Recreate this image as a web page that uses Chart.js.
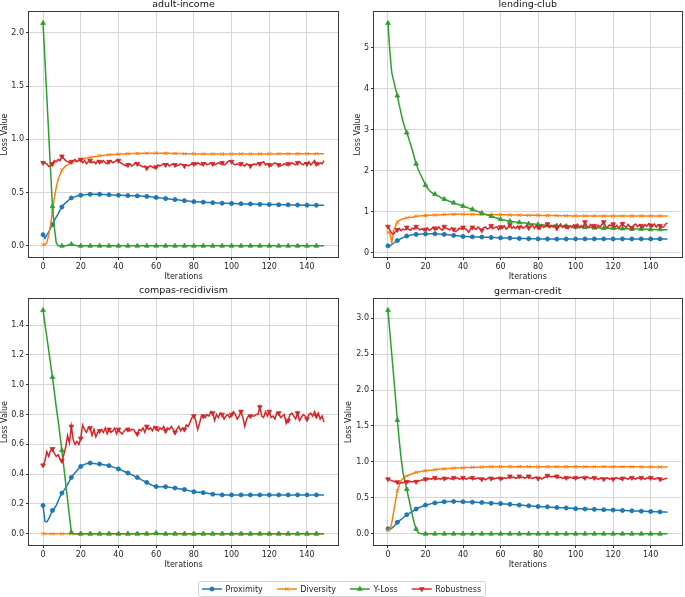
<!DOCTYPE html>
<html><head><meta charset="utf-8">
<script src="https://cdn.jsdelivr.net/npm/chart.js@4.4.1/dist/chart.umd.min.js"></script>
<style>
html,body{margin:0;padding:0;background:#fff;}
#wrap{position:relative;width:685px;height:597px;overflow:hidden;background:#fff;}
.cell{position:absolute;}
canvas{display:block;}
</style></head><body>
<div id="wrap">
<div class="cell" style="left:0;top:0"><canvas id="c0" width="342" height="285"></canvas></div>
<div class="cell" style="left:342px;top:0"><canvas id="c1" width="343" height="285"></canvas></div>
<div class="cell" style="left:0;top:285px"><canvas id="c2" width="342" height="285"></canvas></div>
<div class="cell" style="left:342px;top:285px"><canvas id="c3" width="343" height="285"></canvas></div>
<div class="cell" style="left:0;top:570px"><canvas id="cl" width="685" height="27"></canvas></div>
</div>
<script>
// ---------------- DATA ----------------
const ITERATIONS = Array.from({length:150}, (_, i) => i);
const SERIES_NAMES = ['Proximity','Diversity','Y-Loss','Robustness'];
const DATASET_TITLES = ['adult-income','lending-club','compas-recidivism','german-credit'];
const X_TICKS = [0,20,40,60,80,100,120,140];
const X_TICK_LABELS = ['0','20','40','60','80','100','120','140'];

const adultYTicks = [0,0.5,1.0,1.5,2.0];
const adultYTickLabels = ['0.0','0.5','1.0','1.5','2.0'];
const lendingYTicks = [0,1,2,3,4,5];
const lendingYTickLabels = ['0','1','2','3','4','5'];
const compasYTicks = [0,0.2,0.4,0.6,0.8,1.0,1.2,1.4];
const compasYTickLabels = ['0.0','0.2','0.4','0.6','0.8','1.0','1.2','1.4'];
const germanYTicks = [0,0.5,1.0,1.5,2.0,2.5,3.0];
const germanYTickLabels = ['0.0','0.5','1.0','1.5','2.0','2.5','3.0'];

// adult-income
const adultProximity = [
0.105,0.07,0.10,0.13,0.165,0.20,0.24,0.27,0.30,0.335,
0.365,0.385,0.405,0.42,0.435,0.45,0.455,0.462,0.468,0.472,
0.475,0.478,0.48,0.482,0.483,0.484,0.485,0.485,0.485,0.484,
0.484,0.483,0.482,0.481,0.48,0.479,0.478,0.477,0.476,0.476,
0.475,0.475,0.474,0.473,0.473,0.472,0.471,0.471,0.47,0.47,
0.469,0.468,0.467,0.466,0.465,0.464,0.462,0.46,0.458,0.456,
0.454,0.452,0.45,0.448,0.446,0.444,0.442,0.44,0.438,0.436,
0.434,0.432,0.43,0.428,0.426,0.424,0.422,0.42,0.418,0.416,
0.415,0.414,0.413,0.412,0.411,0.41,0.409,0.408,0.407,0.406,
0.405,0.404,0.403,0.402,0.401,0.40,0.40,0.399,0.399,0.398,
0.398,0.397,0.397,0.396,0.396,0.395,0.395,0.394,0.394,0.393,
0.393,0.392,0.392,0.391,0.391,0.39,0.39,0.39,0.389,0.389,
0.388,0.388,0.388,0.387,0.387,0.386,0.386,0.386,0.385,0.385,
0.385,0.384,0.384,0.384,0.383,0.383,0.383,0.383,0.382,0.382,
0.382,0.382,0.381,0.381,0.381,0.381,0.38,0.38,0.38,0.38];
const adultDiversity = [
0.01,0.01,0.03,0.10,0.20,0.33,0.45,0.55,0.62,0.67,
0.71,0.73,0.75,0.76,0.77,0.78,0.79,0.795,0.80,0.805,
0.81,0.815,0.82,0.825,0.828,0.83,0.833,0.836,0.839,0.842,
0.845,0.847,0.849,0.851,0.853,0.855,0.856,0.857,0.858,0.859,
0.86,0.861,0.862,0.863,0.864,0.865,0.865,0.866,0.866,0.867,
0.867,0.867,0.868,0.868,0.868,0.869,0.869,0.869,0.87,0.87,
0.87,0.87,0.869,0.869,0.869,0.868,0.868,0.868,0.867,0.867,
0.867,0.866,0.866,0.866,0.865,0.865,0.865,0.864,0.864,0.864,
0.863,0.863,0.863,0.863,0.862,0.862,0.862,0.862,0.862,0.862,
0.862,0.862,0.862,0.862,0.862,0.862,0.862,0.862,0.862,0.862,
0.862,0.862,0.863,0.863,0.863,0.863,0.863,0.863,0.863,0.863,
0.863,0.863,0.863,0.863,0.863,0.863,0.863,0.863,0.863,0.863,
0.863,0.863,0.863,0.863,0.863,0.864,0.864,0.864,0.864,0.864,
0.864,0.864,0.864,0.864,0.864,0.864,0.864,0.864,0.864,0.864,
0.864,0.864,0.864,0.864,0.864,0.864,0.864,0.864,0.864,0.864];
const adultYLoss = [
2.09,1.75,1.40,1.05,0.70,0.37,0.17,0.03,0.00,0.00,
0.00,0.00,0.00,0.005,0.01,0.015,0.01,0.005,0.00,0.00,
0,0,0,0,0,0,0,0,0,0,
0,0,0,0,0,0,0,0,0,0,
0,0,0,0,0,0,0,0,0,0,
0,0,0,0,0,0,0,0,0,0,
0,0,0,0,0,0,0,0,0,0,
0,0,0,0,0,0,0,0,0,0,
0,0,0,0,0,0,0,0,0,0,
0,0,0,0,0,0,0,0,0,0,
0,0,0,0,0,0,0,0,0,0,
0,0,0,0,0,0,0,0,0,0,
0,0,0,0,0,0,0,0,0,0,
0,0,0,0,0,0,0,0,0,0,
0,0,0,0,0,0,0,0,0,0];
const adultRobustness = [
0.78,0.775,0.77,0.745,0.75,0.77,0.80,0.79,0.81,0.80,
0.84,0.82,0.80,0.79,0.78,0.79,0.80,0.81,0.79,0.80,
0.81,0.78,0.80,0.77,0.79,0.80,0.78,0.79,0.77,0.80,
0.79,0.78,0.80,0.78,0.77,0.79,0.80,0.78,0.79,0.80,
0.80,0.78,0.77,0.76,0.75,0.76,0.77,0.75,0.76,0.78,
0.77,0.76,0.75,0.74,0.75,0.73,0.74,0.75,0.74,0.73,
0.74,0.76,0.75,0.76,0.77,0.76,0.77,0.75,0.76,0.77,
0.76,0.75,0.76,0.77,0.76,0.75,0.76,0.75,0.76,0.77,
0.77,0.76,0.78,0.77,0.76,0.77,0.78,0.76,0.77,0.78,
0.77,0.76,0.77,0.78,0.77,0.78,0.76,0.77,0.79,0.80,
0.79,0.77,0.76,0.77,0.76,0.77,0.76,0.75,0.77,0.76,
0.75,0.76,0.77,0.76,0.78,0.77,0.78,0.79,0.76,0.77,
0.76,0.75,0.77,0.78,0.77,0.76,0.75,0.76,0.77,0.76,
0.77,0.76,0.78,0.77,0.76,0.78,0.79,0.77,0.76,0.78,
0.77,0.79,0.76,0.78,0.80,0.77,0.76,0.78,0.77,0.80];

// lending-club
const lendingProximity = [
0.17,0.17,0.20,0.24,0.27,0.30,0.32,0.35,0.37,0.39,
0.41,0.42,0.43,0.44,0.445,0.45,0.455,0.455,0.46,0.46,
0.46,0.46,0.465,0.465,0.465,0.465,0.46,0.46,0.455,0.455,
0.45,0.445,0.44,0.435,0.43,0.425,0.42,0.415,0.41,0.405,
0.40,0.398,0.396,0.394,0.392,0.39,0.389,0.388,0.387,0.386,
0.385,0.383,0.381,0.379,0.377,0.375,0.373,0.371,0.369,0.367,
0.365,0.364,0.363,0.362,0.361,0.36,0.358,0.356,0.354,0.352,
0.35,0.349,0.348,0.347,0.346,0.345,0.344,0.343,0.342,0.341,
0.34,0.34,0.339,0.339,0.338,0.338,0.337,0.337,0.336,0.336,
0.335,0.335,0.335,0.336,0.336,0.337,0.337,0.338,0.338,0.339,
0.339,0.34,0.34,0.34,0.34,0.34,0.34,0.34,0.34,0.34,
0.34,0.34,0.34,0.34,0.34,0.34,0.34,0.34,0.34,0.34,
0.34,0.34,0.34,0.34,0.34,0.34,0.34,0.34,0.34,0.34,
0.34,0.34,0.34,0.34,0.34,0.34,0.34,0.34,0.34,0.34,
0.34,0.34,0.34,0.34,0.34,0.34,0.34,0.34,0.34,0.34];
const lendingDiversity = [
0.50,0.48,0.25,0.55,0.65,0.75,0.79,0.81,0.83,0.84,
0.85,0.86,0.865,0.87,0.88,0.89,0.895,0.90,0.905,0.905,
0.91,0.91,0.915,0.915,0.92,0.92,0.925,0.925,0.93,0.93,
0.935,0.935,0.935,0.94,0.94,0.94,0.94,0.94,0.94,0.94,
0.94,0.94,0.94,0.94,0.94,0.94,0.938,0.937,0.936,0.935,
0.935,0.934,0.933,0.932,0.931,0.93,0.93,0.93,0.93,0.93,
0.93,0.928,0.927,0.926,0.925,0.924,0.923,0.922,0.921,0.92,
0.92,0.92,0.919,0.918,0.917,0.916,0.916,0.915,0.915,0.915,
0.915,0.914,0.913,0.912,0.911,0.91,0.91,0.91,0.909,0.908,
0.908,0.907,0.906,0.905,0.904,0.903,0.902,0.902,0.901,0.901,
0.90,0.90,0.90,0.90,0.90,0.90,0.90,0.90,0.90,0.90,
0.90,0.90,0.90,0.90,0.90,0.90,0.90,0.90,0.90,0.90,
0.90,0.90,0.90,0.90,0.90,0.90,0.90,0.90,0.90,0.90,
0.90,0.90,0.90,0.90,0.90,0.90,0.90,0.90,0.90,0.90,
0.90,0.90,0.90,0.90,0.90,0.90,0.90,0.90,0.90,0.90];
const lendingYLoss = [
5.60,4.90,4.40,4.20,4.00,3.83,3.60,3.40,3.20,3.05,
2.93,2.80,2.65,2.50,2.33,2.17,2.05,1.94,1.85,1.75,
1.65,1.58,1.52,1.48,1.45,1.43,1.40,1.38,1.35,1.33,
1.31,1.29,1.27,1.25,1.24,1.22,1.20,1.19,1.17,1.16,
1.14,1.12,1.11,1.09,1.08,1.06,1.04,1.02,1.01,0.99,
0.97,0.95,0.94,0.92,0.91,0.89,0.88,0.86,0.85,0.83,
0.82,0.81,0.80,0.79,0.78,0.77,0.765,0.76,0.75,0.745,
0.74,0.735,0.73,0.725,0.72,0.71,0.705,0.70,0.70,0.695,
0.69,0.685,0.68,0.68,0.675,0.67,0.67,0.665,0.665,0.66,
0.66,0.655,0.655,0.65,0.65,0.65,0.645,0.64,0.64,0.635,
0.63,0.63,0.625,0.625,0.62,0.62,0.62,0.615,0.615,0.61,
0.61,0.61,0.605,0.605,0.60,0.60,0.60,0.60,0.60,0.60,
0.60,0.595,0.595,0.59,0.59,0.59,0.59,0.585,0.585,0.58,
0.58,0.58,0.58,0.58,0.58,0.58,0.575,0.575,0.575,0.57,
0.57,0.57,0.57,0.57,0.57,0.57,0.565,0.565,0.56,0.56];
const lendingRobustness = [
0.64,0.55,0.48,0.46,0.52,0.56,0.60,0.54,0.58,0.56,
0.62,0.57,0.55,0.60,0.58,0.64,0.60,0.56,0.59,0.55,
0.57,0.61,0.55,0.58,0.62,0.60,0.57,0.63,0.58,0.55,
0.64,0.60,0.58,0.56,0.61,0.57,0.52,0.55,0.60,0.58,
0.62,0.59,0.56,0.50,0.58,0.62,0.60,0.57,0.63,0.59,
0.55,0.61,0.63,0.58,0.60,0.66,0.59,0.62,0.64,0.57,
0.63,0.60,0.66,0.58,0.62,0.68,0.60,0.64,0.59,0.65,
0.62,0.66,0.60,0.63,0.67,0.61,0.64,0.69,0.60,0.66,
0.63,0.58,0.68,0.62,0.65,0.70,0.61,0.66,0.63,0.68,
0.60,0.65,0.70,0.62,0.67,0.64,0.59,0.66,0.62,0.68,
0.64,0.70,0.61,0.66,0.63,0.75,0.65,0.62,0.69,0.64,
0.66,0.60,0.67,0.63,0.69,0.75,0.64,0.62,0.68,0.66,
0.70,0.63,0.67,0.60,0.66,0.71,0.65,0.62,0.69,0.64,
0.61,0.67,0.70,0.64,0.68,0.66,0.62,0.69,0.65,0.71,
0.67,0.64,0.70,0.63,0.68,0.66,0.62,0.64,0.70,0.73];

// compas-recidivism
const compasProximity = [
0.19,0.083,0.08,0.10,0.13,0.157,0.17,0.19,0.22,0.25,
0.273,0.29,0.31,0.33,0.355,0.378,0.395,0.41,0.425,0.44,
0.452,0.46,0.466,0.47,0.473,0.475,0.474,0.472,0.47,0.469,
0.468,0.466,0.464,0.462,0.46,0.457,0.453,0.449,0.444,0.44,
0.435,0.43,0.424,0.418,0.413,0.408,0.402,0.396,0.39,0.384,
0.378,0.371,0.364,0.357,0.351,0.345,0.338,0.331,0.325,0.319,
0.317,0.316,0.316,0.316,0.316,0.316,0.314,0.312,0.31,0.308,
0.307,0.305,0.303,0.301,0.299,0.297,0.294,0.291,0.288,0.285,
0.282,0.281,0.279,0.278,0.277,0.276,0.274,0.272,0.27,0.268,
0.266,0.265,0.264,0.263,0.262,0.261,0.261,0.261,0.261,0.261,
0.261,0.261,0.261,0.261,0.261,0.261,0.261,0.261,0.261,0.261,
0.261,0.261,0.261,0.261,0.261,0.261,0.261,0.261,0.261,0.261,
0.261,0.261,0.261,0.261,0.261,0.261,0.261,0.261,0.261,0.261,
0.261,0.261,0.261,0.261,0.261,0.261,0.261,0.261,0.261,0.261,
0.261,0.261,0.261,0.261,0.261,0.261,0.261,0.261,0.261,0.261];
const compasDiversity = [
0,0,0,0,0,0,0,0,0,0,
0,0,0,0,0,0,0,0,0,0,
0,0,0,0,0,0,0,0,0,0,
0,0,0,0,0,0,0,0,0,0,
0,0,0,0,0,0,0,0,0,0,
0,0,0,0,0,0,0,0,0,0,
0,0,0,0,0,0,0,0,0,0,
0,0,0,0,0,0,0,0,0,0,
0,0,0,0,0,0,0,0,0,0,
0,0,0,0,0,0,0,0,0,0,
0,0,0,0,0,0,0,0,0,0,
0,0,0,0,0,0,0,0,0,0,
0,0,0,0,0,0,0,0,0,0,
0,0,0,0,0,0,0,0,0,0,
0,0,0,0,0,0,0,0,0,0];
const compasYLoss = [
1.50,1.41,1.32,1.23,1.14,1.05,0.95,0.85,0.76,0.66,
0.56,0.45,0.34,0.23,0.12,0.01,0,0,0,0,
0,0,0,0,0,0,0,0,0,0,
0,0,0,0,0,0,0,0,0,0,
0,0,0,0,0,0,0,0,0,0,
0,0,0,0,0,0,0,0,0,0.003,
0.005,0.003,0,0,0,0,0,0,0,0,
0,0,0,0,0,0,0,0,0,0,
0,0,0,0,0,0,0,0,0,0,
0,0,0,0,0,0,0,0,0,0,
0,0,0,0,0,0,0,0,0,0,
0,0,0,0,0,0,0,0,0,0,
0,0,0,0,0,0,0,0,0,0,
0,0,0,0,0,0,0,0,0,0,
0,0,0,0,0,0,0,0,0,0];
const compasRobustness = [
0.46,0.49,0.55,0.52,0.56,0.57,0.54,0.52,0.53,0.50,
0.49,0.53,0.58,0.66,0.61,0.72,0.63,0.60,0.62,0.60,
0.64,0.73,0.70,0.68,0.71,0.71,0.66,0.70,0.65,0.68,
0.69,0.70,0.68,0.71,0.67,0.70,0.68,0.69,0.71,0.67,
0.70,0.68,0.67,0.69,0.70,0.70,0.69,0.70,0.70,0.68,
0.67,0.70,0.69,0.71,0.68,0.72,0.70,0.71,0.69,0.72,
0.71,0.69,0.71,0.70,0.72,0.69,0.71,0.70,0.72,0.70,
0.68,0.70,0.72,0.69,0.71,0.70,0.73,0.72,0.75,0.78,
0.79,0.76,0.70,0.74,0.79,0.79,0.78,0.80,0.79,0.82,
0.81,0.76,0.80,0.78,0.81,0.80,0.77,0.79,0.80,0.78,
0.80,0.82,0.80,0.77,0.79,0.82,0.78,0.72,0.77,0.79,
0.79,0.79,0.79,0.80,0.80,0.85,0.79,0.78,0.82,0.79,
0.82,0.78,0.79,0.77,0.81,0.81,0.78,0.79,0.80,0.74,
0.76,0.80,0.81,0.79,0.77,0.81,0.76,0.78,0.80,0.79,
0.77,0.80,0.81,0.79,0.82,0.79,0.81,0.77,0.79,0.75];

// german-credit
const germanProximity = [
0.07,0.06,0.08,0.10,0.13,0.16,0.18,0.20,0.22,0.245,
0.265,0.28,0.295,0.31,0.33,0.345,0.36,0.37,0.38,0.39,
0.40,0.405,0.41,0.42,0.425,0.43,0.433,0.436,0.439,0.442,
0.445,0.447,0.448,0.449,0.45,0.45,0.45,0.449,0.448,0.447,
0.446,0.445,0.444,0.443,0.441,0.44,0.439,0.438,0.437,0.436,
0.435,0.433,0.431,0.429,0.427,0.425,0.424,0.423,0.422,0.421,
0.42,0.418,0.416,0.414,0.412,0.41,0.408,0.406,0.404,0.402,
0.40,0.398,0.396,0.394,0.392,0.39,0.388,0.386,0.384,0.382,
0.38,0.379,0.378,0.377,0.376,0.375,0.373,0.371,0.369,0.367,
0.365,0.364,0.363,0.362,0.361,0.36,0.358,0.356,0.354,0.352,
0.35,0.349,0.348,0.347,0.346,0.345,0.344,0.343,0.342,0.341,
0.34,0.339,0.338,0.337,0.336,0.335,0.334,0.333,0.332,0.331,
0.33,0.329,0.328,0.327,0.326,0.325,0.324,0.323,0.322,0.321,
0.32,0.319,0.318,0.317,0.316,0.315,0.314,0.313,0.312,0.311,
0.31,0.309,0.308,0.307,0.306,0.305,0.304,0.303,0.302,0.30];
const germanDiversity = [
0.05,0.06,0.15,0.30,0.45,0.60,0.68,0.74,0.77,0.79,
0.805,0.815,0.825,0.835,0.845,0.855,0.86,0.865,0.87,0.873,
0.876,0.879,0.882,0.885,0.888,0.891,0.894,0.897,0.90,0.902,
0.904,0.906,0.908,0.91,0.912,0.914,0.915,0.916,0.917,0.918,
0.919,0.92,0.921,0.922,0.923,0.924,0.925,0.926,0.927,0.928,
0.929,0.93,0.93,0.931,0.931,0.932,0.932,0.933,0.933,0.933,
0.934,0.934,0.934,0.934,0.934,0.934,0.934,0.934,0.934,0.934,
0.934,0.934,0.934,0.934,0.934,0.934,0.934,0.934,0.934,0.934,
0.934,0.934,0.934,0.934,0.934,0.934,0.934,0.934,0.934,0.934,
0.933,0.933,0.933,0.933,0.933,0.933,0.933,0.933,0.933,0.933,
0.933,0.933,0.933,0.933,0.933,0.932,0.932,0.932,0.932,0.932,
0.932,0.932,0.932,0.932,0.932,0.932,0.932,0.932,0.932,0.932,
0.931,0.931,0.931,0.931,0.931,0.931,0.931,0.931,0.931,0.931,
0.931,0.931,0.931,0.931,0.931,0.93,0.93,0.93,0.93,0.93,
0.93,0.93,0.93,0.93,0.93,0.93,0.93,0.93,0.93,0.93];
const germanYLoss = [
3.11,2.80,2.50,2.20,1.90,1.58,1.30,1.05,0.85,0.73,
0.62,0.50,0.38,0.26,0.15,0.065,0.02,0.005,0,0,
0,0,0,0,0,0,0,0,0,0,
0,0,0,0,0,0,0,0,0,0,
0,0,0,0,0,0,0,0,0,0,
0,0,0,0,0,0,0,0,0,0,
0,0,0,0,0,0,0,0,0,0,
0,0,0,0,0,0,0,0,0,0,
0,0,0,0,0,0,0,0,0,0,
0,0,0,0,0,0,0,0,0,0,
0,0,0,0,0,0,0,0,0,0,
0,0,0,0,0,0,0,0,0,0,
0,0,0,0,0,0,0,0,0,0,
0,0,0,0,0,0,0,0,0,0,
0,0,0,0,0,0,0,0,0,0];
const germanRobustness = [
0.76,0.75,0.74,0.73,0.72,0.72,0.70,0.71,0.71,0.72,
0.725,0.72,0.73,0.72,0.73,0.725,0.73,0.74,0.75,0.75,
0.76,0.75,0.77,0.76,0.77,0.78,0.76,0.77,0.76,0.77,
0.77,0.76,0.78,0.77,0.76,0.78,0.77,0.78,0.76,0.77,
0.78,0.77,0.76,0.78,0.77,0.78,0.76,0.77,0.78,0.76,
0.76,0.77,0.75,0.77,0.78,0.77,0.76,0.77,0.78,0.77,
0.77,0.76,0.78,0.77,0.78,0.80,0.78,0.79,0.77,0.78,
0.80,0.78,0.79,0.77,0.79,0.80,0.78,0.77,0.78,0.79,
0.77,0.78,0.76,0.78,0.79,0.81,0.80,0.79,0.80,0.79,
0.80,0.78,0.79,0.77,0.78,0.78,0.77,0.79,0.78,0.77,
0.78,0.77,0.78,0.79,0.77,0.78,0.79,0.78,0.77,0.78,
0.78,0.77,0.76,0.77,0.78,0.76,0.77,0.78,0.76,0.77,
0.76,0.77,0.78,0.77,0.76,0.77,0.78,0.77,0.76,0.78,
0.78,0.77,0.76,0.78,0.77,0.78,0.77,0.76,0.78,0.77,
0.78,0.77,0.76,0.77,0.78,0.76,0.75,0.76,0.77,0.77];

// ---------------- STYLE ----------------
const FONT = 'DejaVu Sans';
const TEXT_COLOR = '#262626';
const COLORS = ['#1f77b4','#ff7f0e','#2ca02c','#d62728'];
const MARKERS = [
  {style:'circle', rot:0, r:2.0, bw:1},
  {style:'crossRot', rot:0, r:2.4, bw:1},
  {style:'triangle', rot:0, r:2.7, bw:0.8},
  {style:'triangle', rot:180, r:2.7, bw:0.8}
];
const X_MIN = -7.45, X_MAX = 156.45;

const panels = [
  {id:'c0', title:DATASET_TITLES[0], series:[adultProximity,adultDiversity,adultYLoss,adultRobustness],
   yTicks:adultYTicks, yLabels:adultYTickLabels, yw:29, top:12, right:4, xh:28, xtpad:3, ytpad:0, titleY:5},
  {id:'c1', title:DATASET_TITLES[1], series:[lendingProximity,lendingDiversity,lendingYLoss,lendingRobustness],
   yTicks:lendingYTicks, yLabels:lendingYTickLabels, yw:32, top:12, right:2, xh:28, xtpad:3, ytpad:11, titleY:5},
  {id:'c2', title:DATASET_TITLES[2], series:[compasProximity,compasDiversity,compasYLoss,compasRobustness],
   yTicks:compasYTicks, yLabels:compasYTickLabels, yw:29, top:14, right:4, xh:25, xtpad:0, ytpad:0, titleY:6},
  {id:'c3', title:DATASET_TITLES[3], series:[germanProximity,germanDiversity,germanYLoss,germanRobustness],
   yTicks:germanYTicks, yLabels:germanYTickLabels, yw:32, top:14, right:2, xh:25, xtpad:0, ytpad:2, titleY:6.5}
];

const framePlugin = {
  id:'frame',
  afterDatasetsDraw(chart){
    const a = chart.chartArea, ctx = chart.ctx;
    ctx.save();
    ctx.strokeStyle = '#3a3a3a';
    ctx.lineWidth = 1;
    ctx.strokeRect(Math.round(a.left)-0.5, Math.round(a.top)-0.5, Math.round(a.right-a.left)+1, Math.round(a.bottom-a.top)+1);
    ctx.restore();
  }
};
const titlePlugin = {
  id:'ptitle',
  afterDraw(chart, args, opts){
    const a = chart.chartArea, ctx = chart.ctx;
    ctx.save();
    ctx.font = '9.5px "' + FONT + '"';
    ctx.fillStyle = '#111';
    ctx.textAlign = 'center';
    ctx.textBaseline = 'middle';
    ctx.fillText(opts.text, (a.left + a.right)/2, opts.y);
    ctx.restore();
  }
};

function makePanel(p){
  let lo = Infinity, hi = -Infinity;
  p.series.forEach(s => s.forEach(v => { if (v < lo) lo = v; if (v > hi) hi = v; }));
  const span = hi - lo;
  const yMin = lo - 0.05*span, yMax = hi + 0.05*span;
  const datasets = p.series.map((s, k) => ({
    label: SERIES_NAMES[k],
    data: s,
    borderColor: COLORS[k],
    backgroundColor: COLORS[k],
    borderWidth: 1.5,
    tension: 0,
    fill: false,
    order: 3 - k,
    pointStyle: MARKERS[k].style,
    pointRotation: MARKERS[k].rot,
    pointBorderWidth: MARKERS[k].bw,
    pointBackgroundColor: COLORS[k],
    pointBorderColor: COLORS[k],
    pointRadius: ctx => (ctx.dataIndex % 5 === 0 ? MARKERS[k].r : 0),
    pointHoverRadius: 0,
    pointHitRadius: 0
  }));
  new Chart(document.getElementById(p.id), {
    type:'line',
    data:{labels: ITERATIONS, datasets},
    options:{
      responsive:false, animation:false, events:[],
      layout:{padding:{left:0, top:p.top, right:p.right, bottom:0}},
      plugins:{legend:{display:false}, tooltip:{enabled:false}, title:{display:false},
               ptitle:{text:p.title, y:p.titleY}},
      scales:{
        x:{type:'linear', min:X_MIN, max:X_MAX,
           afterBuildTicks: s => { s.ticks = X_TICKS.map(v => ({value:v})); },
           afterFit: s => { s.height = p.xh; },
           ticks:{callback:(v,i) => X_TICK_LABELS[i], font:{family:FONT, size:8}, color:TEXT_COLOR,
                  padding:2, maxRotation:0, autoSkip:false},
           grid:{color:'#d6d6d6', lineWidth:1, drawTicks:true, tickLength:3, tickColor:'#333', tickWidth:1},
           border:{display:false},
           title:{display:true, text:'Iterations', font:{family:FONT, size:8}, color:TEXT_COLOR,
                  padding:{top:0, bottom:p.xtpad}}
        },
        y:{type:'linear', min:yMin, max:yMax,
           afterBuildTicks: s => { s.ticks = p.yTicks.map(v => ({value:v})); },
           afterFit: s => { s.width = p.yw; },
           ticks:{callback:(v,i) => p.yLabels[i], font:{family:FONT, size:8}, color:TEXT_COLOR,
                  padding:2, autoSkip:false},
           grid:{color:'#d6d6d6', lineWidth:1, drawTicks:true, tickLength:3, tickColor:'#333', tickWidth:1},
           border:{display:false},
           title:{display:true, text:'Loss Value', font:{family:FONT, size:8}, color:TEXT_COLOR,
                  padding:{top:p.ytpad, bottom:0}}
        }
      }
    },
    plugins:[framePlugin, titlePlugin]
  });
}
panels.forEach(makePanel);

// ---------------- LEGEND ----------------
const legendPlugin = {
  id:'figlegend',
  afterDraw(chart){
    const ctx = chart.ctx;
    ctx.save();
    const boxL = 198, boxT = 11.5, boxW = 287, boxH = 15;
    ctx.fillStyle = 'rgba(255,255,255,0.8)';
    ctx.strokeStyle = '#d0d0d0';
    ctx.lineWidth = 1;
    ctx.beginPath();
    ctx.roundRect(boxL + 0.5, boxT, boxW, boxH, 2);
    ctx.fill(); ctx.stroke();
    ctx.font = '8px "' + FONT + '"';
    ctx.textBaseline = 'middle';
    ctx.textAlign = 'left';
    const cy = boxT + boxH/2;
    let x = 202;
    SERIES_NAMES.forEach((name, k) => {
      ctx.strokeStyle = COLORS[k];
      ctx.lineWidth = 1.5;
      ctx.beginPath(); ctx.moveTo(x, cy); ctx.lineTo(x + 20, cy); ctx.stroke();
      ctx.fillStyle = COLORS[k];
      ctx.lineWidth = MARKERS[k].bw;
      Chart.helpers.drawPoint(ctx, {pointStyle:MARKERS[k].style, rotation:MARKERS[k].rot,
        radius:MARKERS[k].r, borderWidth:MARKERS[k].bw}, x + 10, cy);
      ctx.fillStyle = TEXT_COLOR;
      ctx.fillText(name, x + 23.5, cy + 0.5);
      x += 23.5 + ctx.measureText(name).width + 14;
    });
    ctx.restore();
  }
};
new Chart(document.getElementById('cl'), {
  type:'line',
  data:{labels:[], datasets:[]},
  options:{responsive:false, animation:false, events:[],
    plugins:{legend:{display:false}, tooltip:{enabled:false}},
    scales:{x:{display:false}, y:{display:false}}},
  plugins:[legendPlugin]
});
</script>
</body></html>
